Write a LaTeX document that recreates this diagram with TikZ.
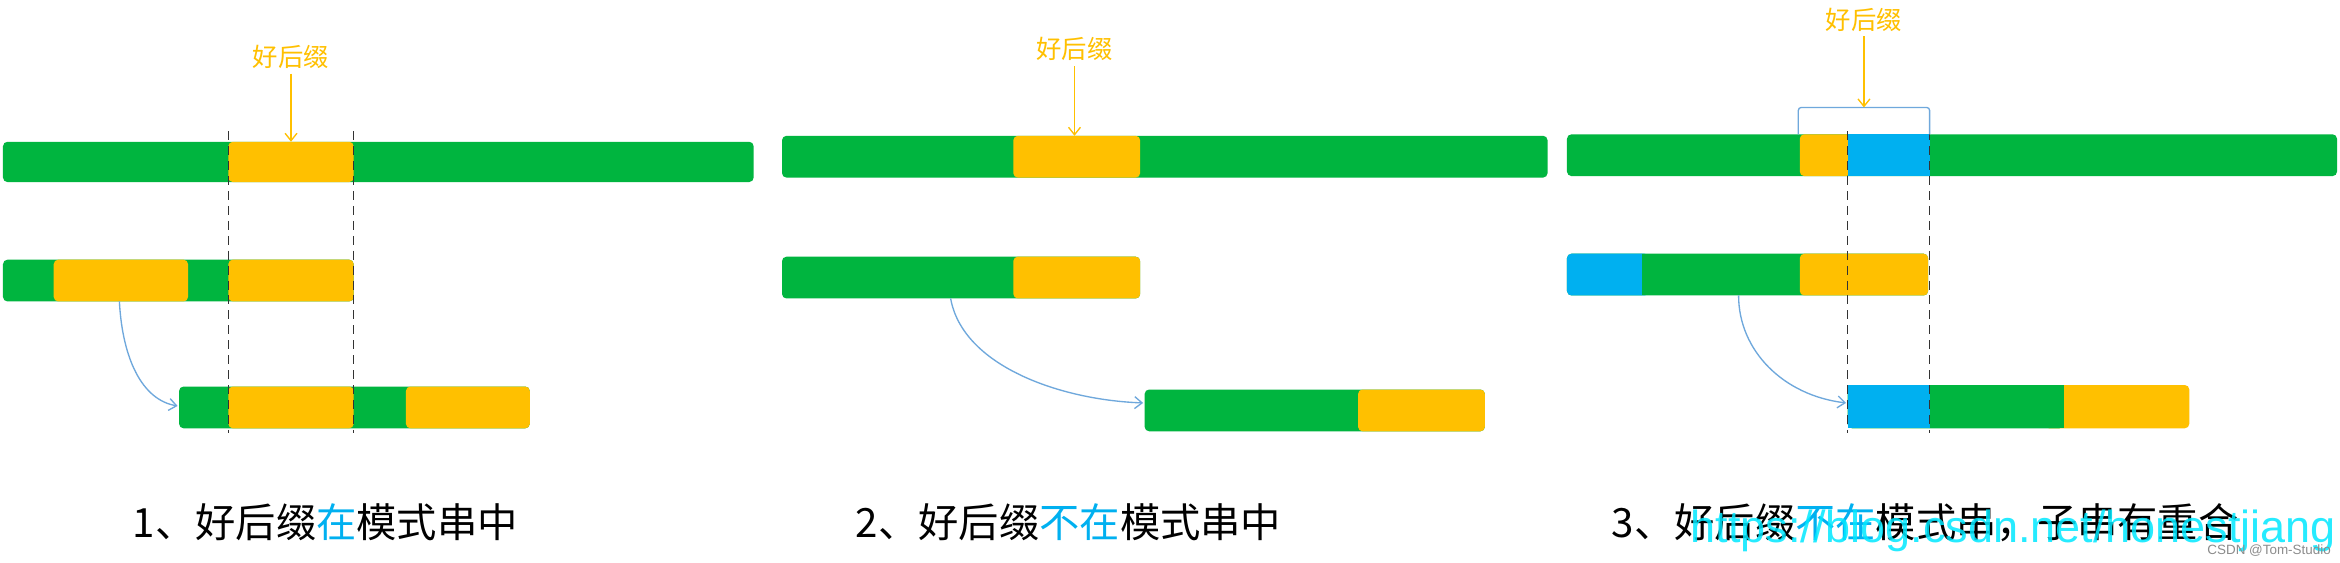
\documentclass[tikz,border=0pt]{standalone}
\usepackage{fontspec}
\setmainfont{Liberation Sans}
\newfontfamily\cjk{Noto Sans CJK SC}
\usetikzlibrary{arrows.meta}
\definecolor{gr}{HTML}{00B53F}
\definecolor{og}{HTML}{FFC000}
\definecolor{bl}{HTML}{00B0F0}
\definecolor{cv}{HTML}{6FA8DC}
\definecolor{wm}{HTML}{00E8FF}
\tikzset{
 gbar/.style={fill=gr,rounded corners=3pt},
 obar/.style={fill=og,rounded corners=3pt},
 bbar/.style={fill=bl,rounded corners=3pt},
 guide/.style={draw=black!80,line width=1pt,dash pattern=on 6pt off 4pt},
 curv/.style={draw=cv,line width=0.9pt,-{Straight Barb[length=5pt,width=8pt]}},
 parr/.style={draw=og,line width=0.9pt,-{Straight Barb[length=5pt,width=8pt]}},
 lab/.style={text=og,font=\cjk\fontsize{17}{17}\selectfont},
 captxt/.style={font=\cjk\fontsize{27}{27}\selectfont,inner sep=0},
}
\begin{document}
\begin{tikzpicture}[x=1pt,y=-1pt]
\useasboundingbox[fill=white] (0,0) rectangle (1568,376.6);
% ---- panel 1
\fill[gbar] (2,95) rectangle (505,122);
\fill[obar] (153,95) rectangle (237,122);
\fill[gbar] (2,174) rectangle (237,202);
\fill[obar] (36,174) rectangle (126,202);
\fill[obar] (153,174) rectangle (237,202);
\fill[gbar] (120,259) rectangle (355,287);
\fill[obar] (153,259) rectangle (237,287);
\fill[obar] (272,259) rectangle (355,287);
\draw[guide] (153,88) -- (153,290);
\draw[guide] (237,88) -- (237,290);
\node[lab] (l1) at (195,38) {好后缀};
\coordinate (t1) at (195,95);
\draw[parr] (l1.south) -- (t1);
\coordinate (c1a) at (80,202); \coordinate (c1b) at (119,272);
\draw[curv] (c1a) .. controls (82,240) and (95,268) .. (c1b);
\node[captxt] (k1) at (218,350) {1、好后缀\textcolor{bl}{在}模式串中};
% ---- panel 2
\fill[gbar] (524,91) rectangle (1037,119);
\fill[obar] (679,91) rectangle (764,119);
\fill[gbar] (524,172) rectangle (764,200);
\fill[obar] (679,172) rectangle (764,200);
\fill[gbar] (767,261) rectangle (995,289);
\fill[obar] (910,261) rectangle (995,289);
\node[lab] (l2) at (720,33) {好后缀};
\coordinate (t2) at (720,91);
\draw[parr] (l2.south) -- (t2);
\coordinate (c2a) at (637,200); \coordinate (c2b) at (766,270);
\draw[curv] (c2a) .. controls (645,245) and (710,268) .. (c2b);
\node[captxt] (k2) at (716,350) {2、好后缀\textcolor{bl}{不在}模式串中};
% ---- panel 3
\fill[gbar] (1050,90) rectangle (1566,118);
\fill[obar] (1206,90) rectangle (1240,118);
\fill[bl] (1238,90) rectangle (1293,118);
\fill[gbar] (1050,170) rectangle (1292,198);
\fill[bbar] (1050,170) rectangle (1105,198);
\fill[gr] (1100,170) rectangle (1106,198);
\fill[obar] (1206,170) rectangle (1292,198);
\fill[obar] (1370,258) rectangle (1467,287);
\fill[gbar] (1238,258) rectangle (1383,287);
\fill[bl] (1238,258) rectangle (1293,287);
\fill[gr] (1293,258) rectangle (1383,287);
\draw[guide] (1238,88) -- (1238,290);
\draw[guide] (1293,88) -- (1293,290);
\draw[draw=cv,line width=0.9pt,rounded corners=2pt] (1205,90) -- (1205,72) -- (1293,72) -- (1293,90);
\node[lab] (l3) at (1249,13) {好后缀};
\coordinate (t3) at (1249,72);
\draw[parr] (l3.south) -- (t3);
\coordinate (c3a) at (1165,198); \coordinate (c3b) at (1237,270);
\draw[curv] (c3a) .. controls (1165,235) and (1195,265) .. (c3b);
\node[captxt] (k3) at (1290,350) {3、好后缀\textcolor{bl}{不在}模式串，子串有重合};
\node[inner sep=0,text=wm,opacity=0.85] (w1) at (1349,356) {\resizebox{432pt}{!}{https://blog.csdn.net/honestjiang}};
\node[inner sep=0,text=black!45,font=\fontsize{9}{9}\selectfont,anchor=east] (w2) at (1562,369) {CSDN @Tom-Studio};
\end{tikzpicture}
\end{document}
